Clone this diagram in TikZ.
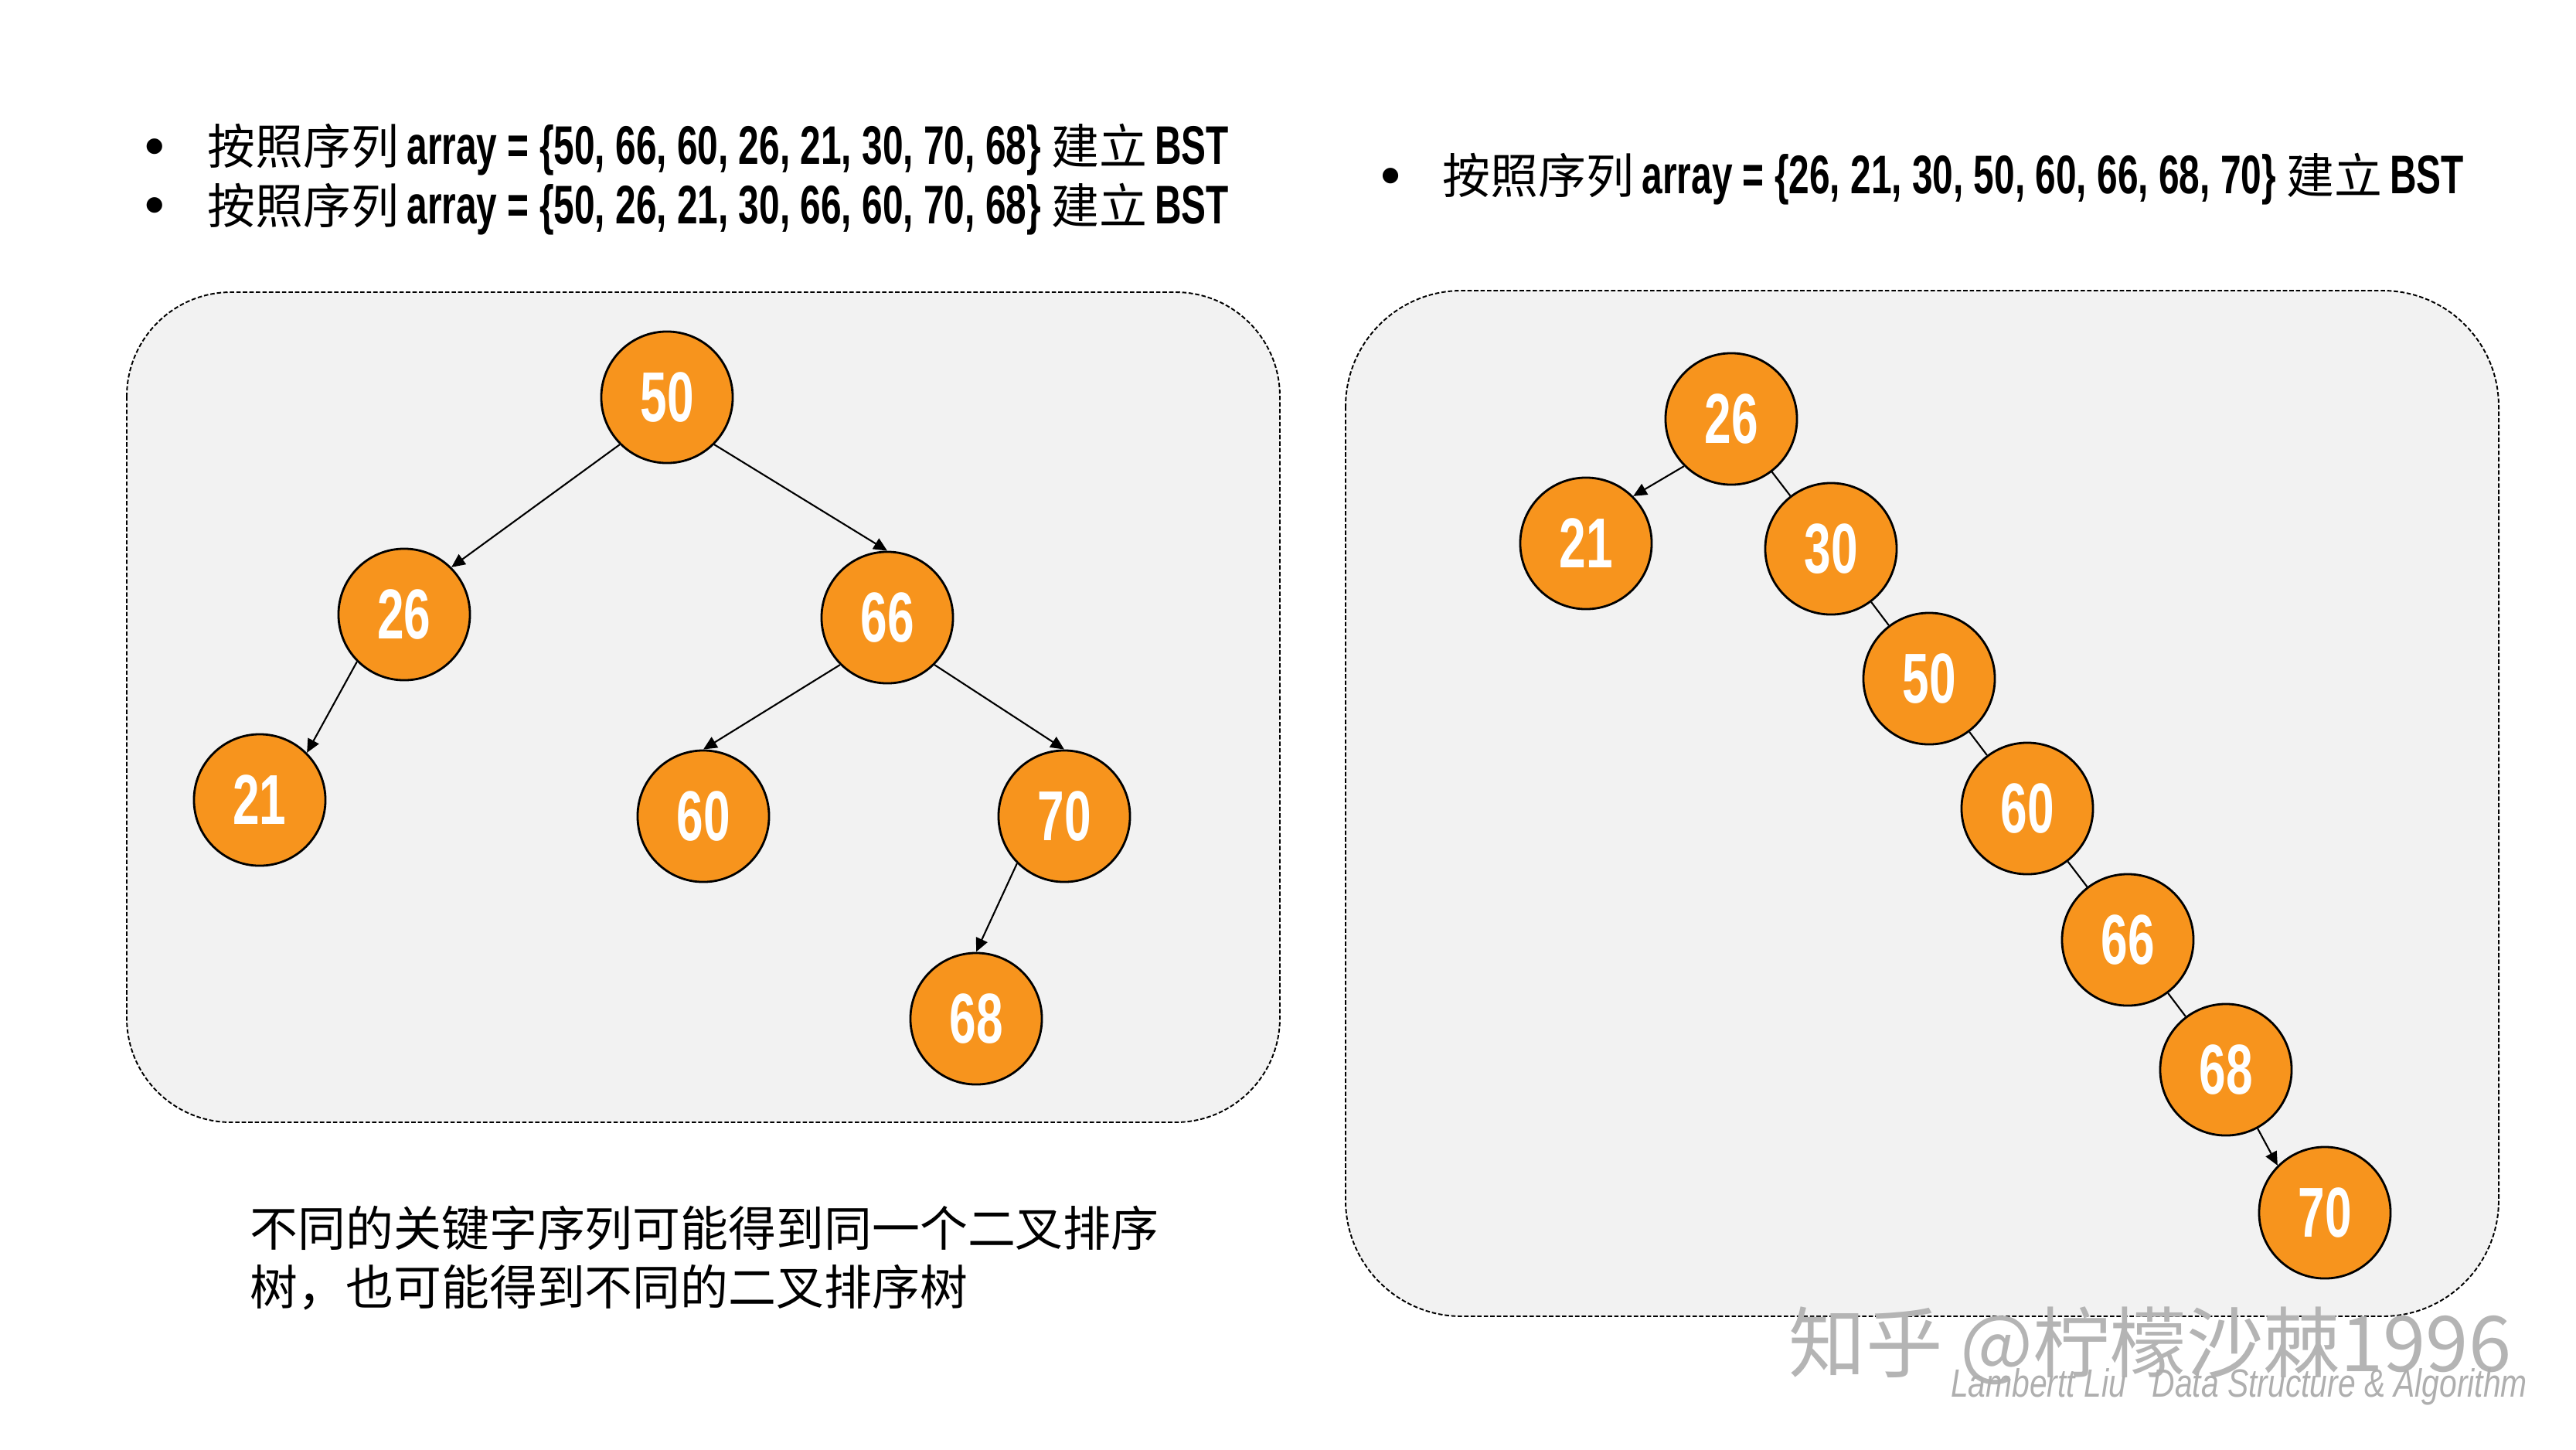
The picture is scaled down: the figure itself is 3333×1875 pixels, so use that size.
\documentclass[tikz,border=0pt]{standalone}
\usepackage{fontspec}
\usetikzlibrary{arrows.meta}
\newfontfamily\cjk{Noto Sans CJK SC}
\newfontfamily\dejavu{DejaVu Sans}
\newfontfamily\agency[FakeStretch=0.68]{Liberation Sans}
\newfontfamily\headlat[FakeStretch=0.68]{Liberation Sans}
\newfontfamily\thinfont[FakeStretch=0.8]{Liberation Sans}
\newcommand\mylat{\headlat\bfseries\fontsize{20pt}{20pt}\selectfont}
\newcommand\myhan{\cjk\mdseries\fontsize{17.6pt}{21pt}\selectfont}
\definecolor{nodeorange}{HTML}{F7941D}
\definecolor{panelgray}{HTML}{F2F2F2}
\definecolor{wmgray}{HTML}{B4B4B4}
\definecolor{wmlight}{HTML}{AFAFAF}
\begin{document}
\begin{tikzpicture}[x=0.01cm,y=-0.01cm,
  bst/.style={circle, draw=black, line width=0.8pt, fill=nodeorange, minimum size=1.7cm, inner sep=0pt, text=white, font=\agency\bfseries\fontsize{26pt}{26pt}\selectfont},
  panel/.style={draw=black, fill=panelgray, line width=0.55pt, dash pattern=on 1.6pt off 0.8pt},
  edge/.style={draw=black, line width=0.6pt},
  arr/.style={edge, -{Triangle[length=5pt,width=4.5pt]}},
  heading/.style={anchor=base west, inner sep=0pt},
  bullet/.style={anchor=center, inner sep=0pt, font=\dejavu\fontsize{7.5pt}{7.5pt}\selectfont}
]
\fill[white] (0,0) rectangle (3333,1875);
\useasboundingbox (0,0) rectangle (3333,1875);

% panels
\path[panel, rounded corners=1.35cm] (164,378) rectangle (1656,1452);
\path[panel, rounded corners=1.5cm] (1741,376) rectangle (3233,1703);

% headings
\node[bullet] (b1) at (200,190) {●};
\node[heading] (t1) at (268,212) {\myhan 按照序列\,\mylat array = \{50, 66, 60, 26, 21, 30, 70, 68\} \myhan 建立\,\mylat BST};
\node[bullet] (b2) at (200,266) {●};
\node[heading] (t2) at (268,289) {\myhan 按照序列\,\mylat array = \{50, 26, 21, 30, 66, 60, 70, 68\} \myhan 建立\,\mylat BST};
\node[bullet] (b3) at (1799,228) {●};
\node[heading] (t3) at (1866,250) {\myhan 按照序列\,\mylat array = \{26, 21, 30, 50, 60, 66, 68, 70\} \myhan 建立\,\mylat BST};

% left tree
\node[bst] (L50) at (863,514) {50};
\node[bst] (L26) at (523,795) {26};
\node[bst] (L66) at (1148,799) {66};
\node[bst] (L21) at (336,1035) {21};
\node[bst] (L60) at (910,1056) {60};
\node[bst] (L70) at (1377,1056) {70};
\node[bst] (L68) at (1263,1318) {68};
\draw[arr] (L50.south west) -- (L26.north east);
\draw[arr] (L50.south east) -- (L66.north);
\draw[arr] (L26.south west) -- (L21.north east);
\draw[arr] (L66.south west) -- (L60.north);
\draw[arr] (L66.south east) -- (L70.north);
\draw[arr] (L70.south west) -- (L68.north);

% right tree
\node[bst] (R26) at (2240,542) {26};
\node[bst] (R21) at (2052,703) {21};
\node[bst] (R30) at (2369,710) {30};
\node[bst] (R50) at (2496,878) {50};
\node[bst] (R60) at (2623,1046) {60};
\node[bst] (R66) at (2753,1216) {66};
\node[bst] (R68) at (2880,1384) {68};
\node[bst] (R70) at (3008,1569) {70};
\draw[arr] (R26.south west) -- (R21.north east);
\draw[edge] (R26) -- (R30);
\draw[edge] (R30) -- (R50);
\draw[edge] (R50) -- (R60);
\draw[edge] (R60) -- (R66);
\draw[edge] (R66) -- (R68);
\draw[arr] (R68) -- (R70.north west);

% caption
\node[heading] (c1) at (323,1612) {\myhan 不同的关键字序列可能得到同一个二叉排序};
\node[heading] (c2) at (323,1688) {\myhan 树，也可能得到不同的二叉排序树};

% watermark
\node[inner sep=0pt, text=wmgray, font=\cjk\fontsize{28.3pt}{28.3pt}\selectfont] (wm1) at (2782,1741) {知乎 @柠檬沙棘1996};
\node[inner sep=0pt, text=wmlight, font=\thinfont\itshape\fontsize{14.5pt}{14.5pt}\selectfont] (wm2) at (2897,1794) {Lambertt Liu \ \ Data Structure \& Algorithm};
\end{tikzpicture}
\end{document}
